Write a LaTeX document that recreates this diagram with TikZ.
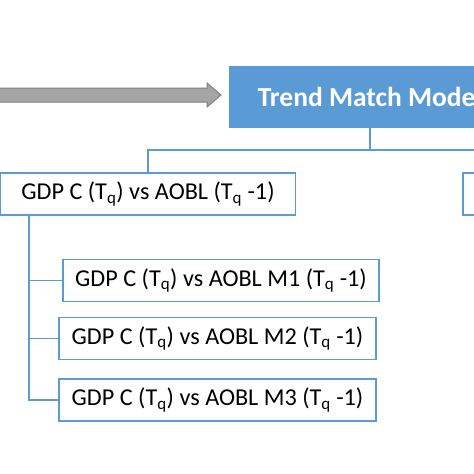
\documentclass[tikz,border=0pt]{standalone}
\usepackage{fontspec}
\setmainfont{Carlito}
\usetikzlibrary{arrows.meta}
\definecolor{tmblue}{HTML}{5B9BD5}
\definecolor{tmgray}{HTML}{A5A5A5}
\definecolor{tmgrayline}{HTML}{808080}
\tikzset{
  model/.style={rectangle,fill=tmblue,text=white,font=\bfseries\fontsize{27.5}{32}\selectfont,minimum width=282pt,minimum height=62pt,inner sep=0pt},
  pair/.style={rectangle,draw=tmblue,line width=1.5pt,fill=white,font=\fontsize{24.2}{29}\selectfont,minimum height=42pt,inner sep=0pt},
  link/.style={draw=tmblue,line width=1.5pt}
}
\begin{document}
\begin{tikzpicture}[x=1pt,y=-1pt]
\useasboundingbox (0,0) rectangle (474,474);
\clip (0,0) rectangle (474,474);

\node[model] at (370,97) (model) {Trend Match Model};

\node[pair,minimum width=295pt] at (148,194) (lag) {GDP C (T\textsubscript{q}) vs AOBL (T\textsubscript{q} -1)};

\node[pair,minimum width=258pt] at (592,194) (other) {};

\node[pair,minimum width=316pt] at (221,280.5) (m1) {GDP C (T\textsubscript{q}) vs AOBL M1 (T\textsubscript{q} -1)};
\node[pair,minimum width=317pt] at (217.5,338.5) (m2) {GDP C (T\textsubscript{q}) vs AOBL M2 (T\textsubscript{q} -1)};
\node[pair,minimum width=317pt] at (217.5,400) (m3) {GDP C (T\textsubscript{q}) vs AOBL M3 (T\textsubscript{q} -1)};

% input arrow
\coordinate (tip) at (221,95);
\draw[fill=tmgray,draw=tmgrayline,line width=1pt] (tip) -- ++(-14,-12) -- ++(0,5) -- ++(-230,0) -- ++(0,14) -- ++(230,0) -- ++(0,5) -- cycle;

\draw[link] (model.south) -- ++(0,22) -| (lag.north);
\draw[link] (model.south) -- ++(0,22) -| (other.north);
\foreach \m in {m1,m2,m3}
  \draw[link] ([xshift=29pt]lag.south west) |- (\m.west);
\end{tikzpicture}
\end{document}
